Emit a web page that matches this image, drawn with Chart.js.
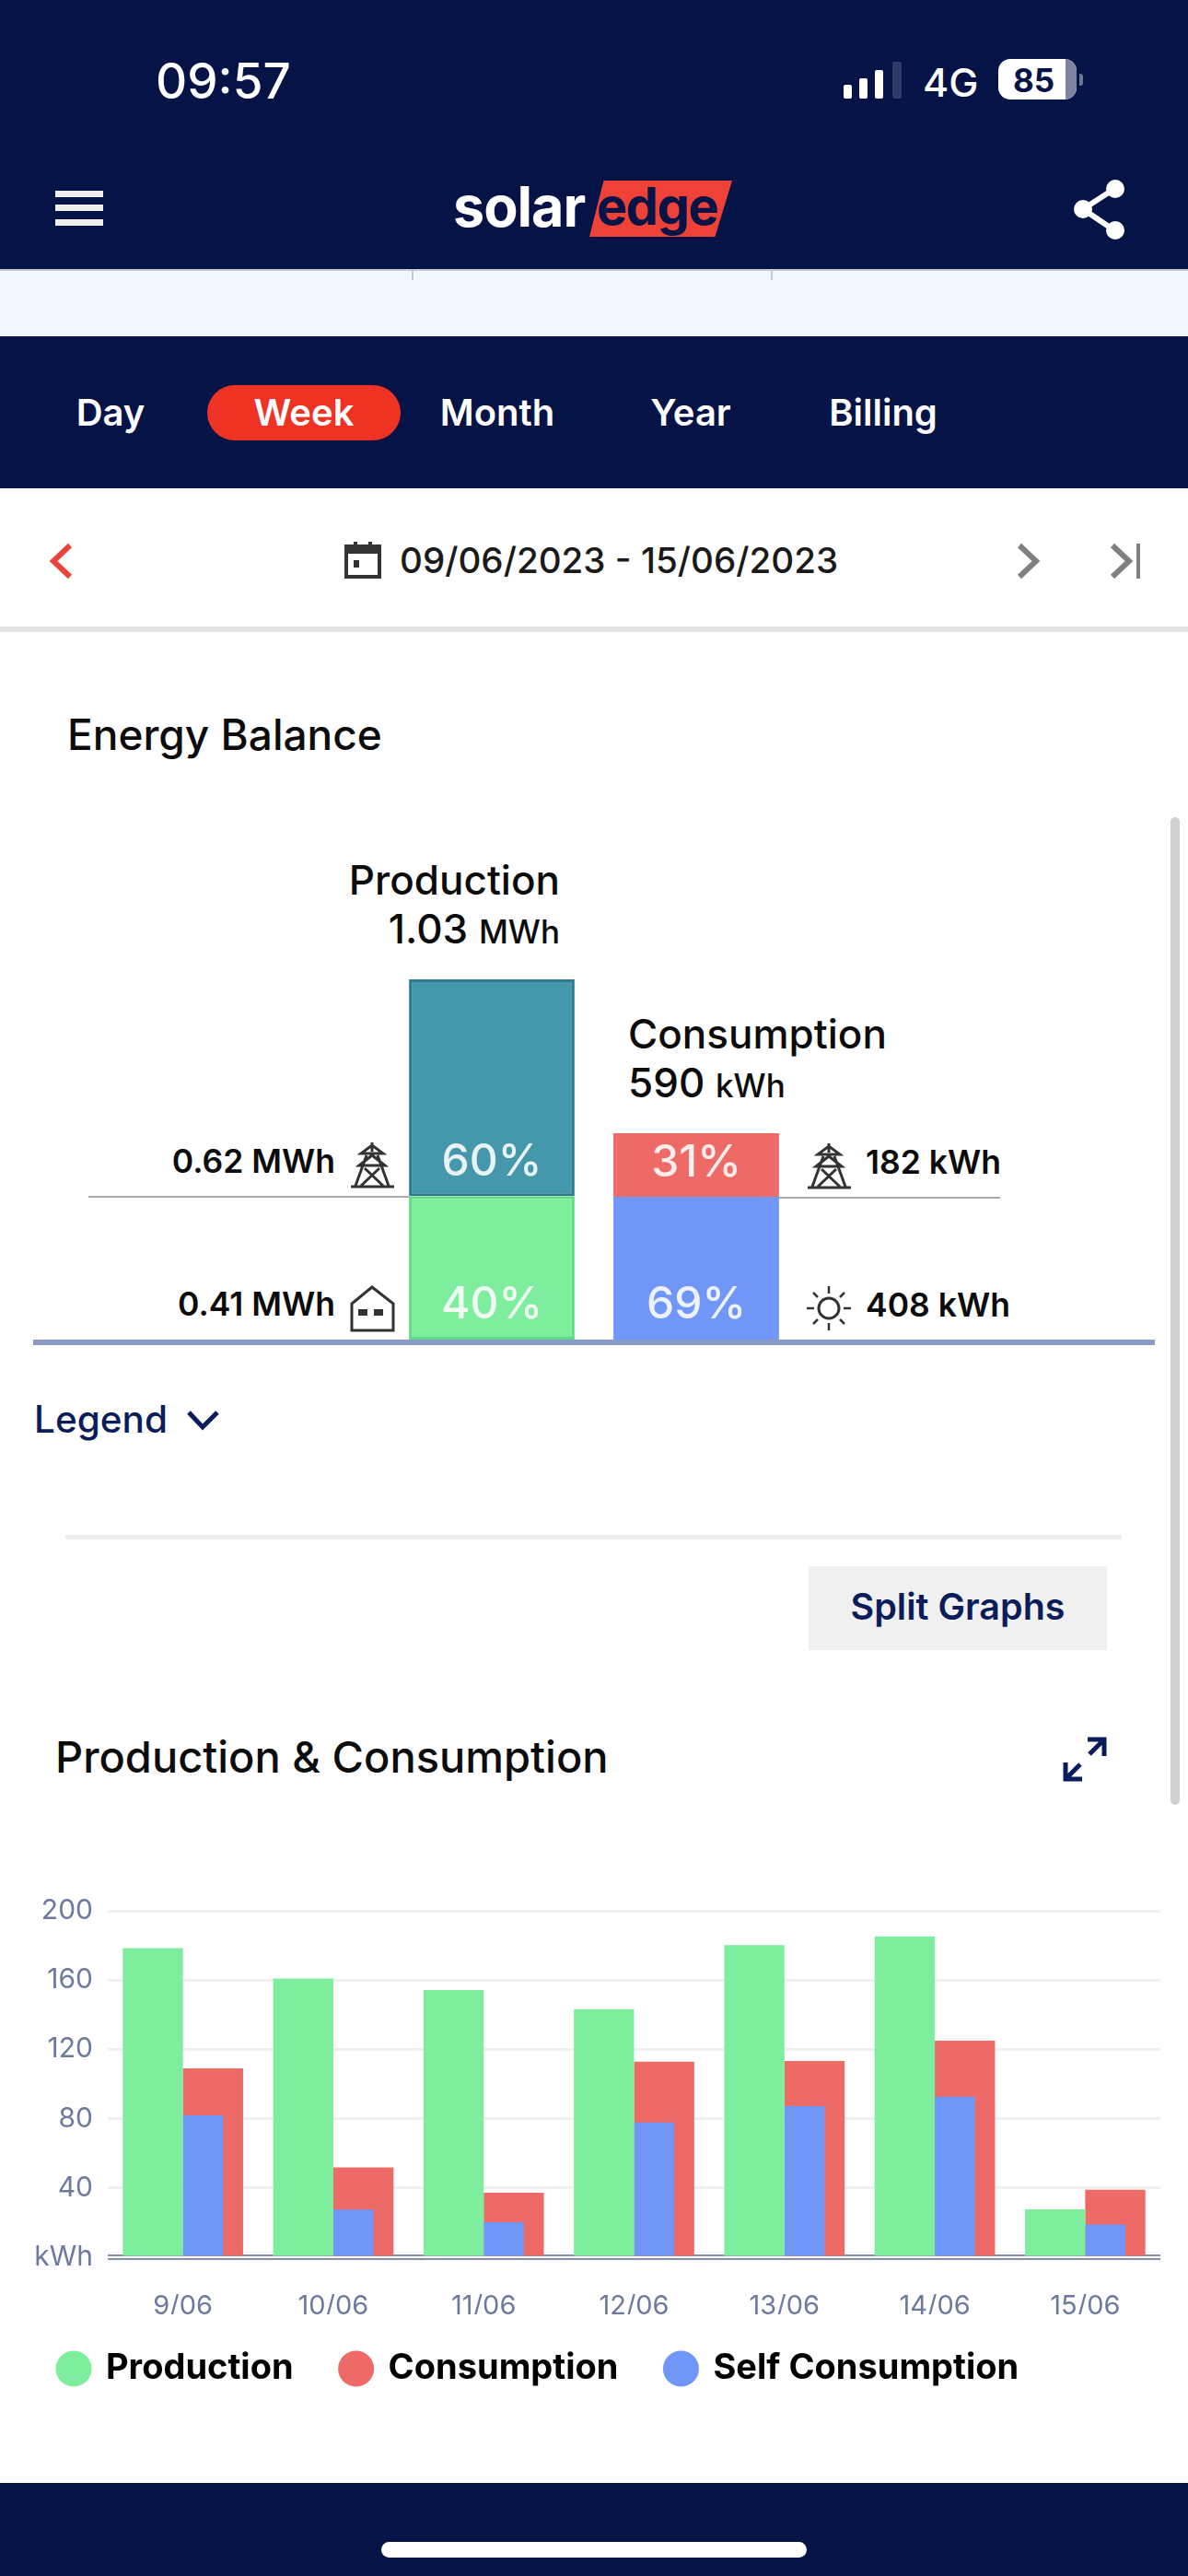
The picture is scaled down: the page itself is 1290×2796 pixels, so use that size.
<!DOCTYPE html>
<html lang="en">
<head>
    <meta charset="UTF-8">
    <title>SolarEdge Energy Balance</title>
    <script src="https://cdn.jsdelivr.net/npm/chart.js@4/dist/chart.umd.min.js"></script>
    <style>
        html, body { margin: 0; padding: 0; background: #fff; }
        body { position: relative; width: 1290px; height: 2796px; overflow: hidden; font-family: Inter, sans-serif; color: #0c0c0c; }
        .box { position: absolute; }
        .t { position: absolute; white-space: nowrap; transform: translateY(-50%); line-height: 1; }
        .navy { background: #051346; }
        .tab { color: #fff; font-size: 40px; font-weight: 600; top: 448px; transform: translate(-50%, -50%); }
        .label { font-size: 35.5px; font-weight: 600; }
        .head { font-size: 44px; font-weight: 500; }
        .small { font-size: 35px; }
        svg { position: absolute; overflow: visible; }
        canvas { position: absolute; display: block; }
    </style>
</head>
<body>
    <!-- Header -->
    <div class="box navy" style="left:0;top:0;width:1290px;height:292px"></div>
    <div class="box" style="left:0;top:292px;width:1290px;height:73px;background:#f0f7ff;border-top:2px solid #c4c8cf;box-sizing:border-box"></div>
    <div class="box" style="left:447px;top:293px;width:2px;height:11px;background:#c4c8cf"></div>
    <div class="box" style="left:837px;top:293px;width:2px;height:11px;background:#c4c8cf"></div>

    <div class="t" style="left:169px;top:88px;color:#fff;font-size:53px;font-weight:500">09:57</div>
    <div class="box" style="left:916px;top:92px;width:9px;height:15px;background:#fff;border-radius:2px"></div>
    <div class="box" style="left:933px;top:85px;width:9px;height:22px;background:#fff;border-radius:2px"></div>
    <div class="box" style="left:950px;top:76px;width:9px;height:31px;background:#fff;border-radius:2px"></div>
    <div class="box" style="left:969px;top:67px;width:10px;height:40px;background:#2e3a68;border-radius:2px"></div>
    <div class="t" style="left:1002px;top:89px;color:#fff;font-size:43px;font-weight:500">4G</div>
    <div class="box" style="left:1084px;top:64px;width:85px;height:44px;background:#fff;border-radius:13px;overflow:hidden">
        <div class="box" style="left:73px;top:0;width:12px;height:44px;background:#7d84a0"></div>
    </div>
    <div class="box" style="left:1172px;top:80px;width:4px;height:13px;background:#6d7490;border-radius:0 3px 3px 0"></div>
    <div class="t" style="left:1100px;top:87px;color:#051346;font-size:35px;font-weight:700">85</div>

    <div class="box" style="left:60px;top:207px;width:52px;height:7px;background:#eee"></div>
    <div class="box" style="left:60px;top:222px;width:52px;height:7px;background:#eee"></div>
    <div class="box" style="left:60px;top:238px;width:52px;height:7px;background:#eee"></div>

    <div class="box" style="left:640px;top:196px;width:155px;height:61px;background:#ee4238;clip-path:polygon(10% 0,100% 0,88% 100%,0 100%)"></div>
    <div class="t" style="left:492px;top:224px;color:#fff;font-size:61px;font-weight:700;letter-spacing:-1px">solar</div>
    <div class="t" style="left:648px;top:224px;color:#051346;font-size:56px;font-weight:700;letter-spacing:-1.5px">edge</div>

    <svg style="left:0;top:0" width="1" height="1">
        <path d="M1210 205 L1176 227 L1210 250" fill="none" stroke="#fff" stroke-width="6"/>
        <circle cx="1211" cy="205" r="10" fill="#fff"/>
        <circle cx="1176" cy="227" r="10" fill="#fff"/>
        <circle cx="1211" cy="250" r="10" fill="#fff"/>
    </svg>

    <!-- Period tabs -->
    <div class="box navy" style="left:0;top:365px;width:1290px;height:165px"></div>
    <div class="box" style="left:225px;top:418px;width:210px;height:60px;background:#ee3224;border-radius:30px"></div>
    <div class="t tab" style="left:120px">Day</div>
    <div class="t tab" style="left:330px">Week</div>
    <div class="t tab" style="left:540px">Month</div>
    <div class="t tab" style="left:750px">Year</div>
    <div class="t tab" style="left:959px">Billing</div>

    <!-- Date row -->
    <svg style="left:0;top:0" width="1" height="1">
        <path d="M76 592 L58 609 L76 626" fill="none" stroke="#e8443a" stroke-width="6"/>
        <rect x="376" y="593" width="36" height="33" fill="none" stroke="#333" stroke-width="4"/>
        <rect x="376" y="593" width="36" height="8" fill="#333"/>
        <rect x="384" y="588" width="4" height="7" fill="#333"/>
        <rect x="400" y="588" width="4" height="7" fill="#333"/>
        <rect x="384" y="608" width="6" height="8" fill="#333"/>
        <path d="M1107 592 L1125 609 L1107 626" fill="none" stroke="#808080" stroke-width="6"/>
        <path d="M1208 592 L1226 609 L1208 626" fill="none" stroke="#808080" stroke-width="6"/>
        <rect x="1234" y="590" width="4" height="38" fill="#808080"/>
    </svg>
    <div class="t" style="left:434px;top:608px;font-size:38.6px;font-weight:500;color:#1a1a1a">09/06/2023 - 15/06/2023</div>
    <div class="box" style="left:0;top:680px;width:1290px;height:6px;background:#e3e3e3"></div>

    <!-- Energy balance -->
    <div class="t" style="left:73px;top:797px;font-size:46px;font-weight:500">Energy Balance</div>
    <div class="box" style="left:1271px;top:887px;width:10px;height:1072px;background:#d0d0d0;border-radius:5px"></div>

    <div class="t head" style="right:682px;top:955px">Production</div>
    <div class="t head" style="right:682px;top:1008px">1.03 <span class="small">MWh</span></div>
    <div class="t head" style="left:682px;top:1122px">Consumption</div>
    <div class="t head" style="left:682px;top:1175px">590 <span class="small">kWh</span></div>

    <div class="box" style="left:96px;top:1298px;width:348px;height:2px;background:#aaa"></div>
    <div class="box" style="left:846px;top:1299px;width:240px;height:2px;background:#aaa"></div>

    <canvas id="balanceChart" width="444" height="391" style="left:423px;top:1063px"></canvas>
    <div class="box" style="left:36px;top:1454px;width:1218px;height:6px;background:#8a9cc5"></div>

    <div class="t label" style="right:926px;top:1261px">0.62 MWh</div>
    <div class="t label" style="right:926px;top:1416px">0.41 MWh</div>
    <div class="t label" style="left:940px;top:1262px">182 kWh</div>
    <div class="t label" style="left:940px;top:1417px">408 kWh</div>

    <svg style="left:0;top:0" width="1" height="1">
        <g id="tower" fill="none" stroke="#333" stroke-width="3">
            <path d="M404 1240 L404 1250 M392 1252 L416 1252 L404 1243 Z M390 1265 L418 1265 L404 1254 Z M398 1254 L386 1287 M410 1254 L422 1287 M396 1268 L416 1287 M412 1268 L392 1287 M381 1288 L428 1288"/>
        </g>
        <use href="#tower" x="496" y="1"/>
        <path d="M382 1444 L382 1415 L404 1397 L427 1415 L427 1444 Z" fill="none" stroke="#333" stroke-width="3"/>
        <rect x="389" y="1421" width="10" height="7" fill="#333"/>
        <rect x="406" y="1421" width="10" height="7" fill="#333"/>
        <circle cx="900" cy="1420" r="11" fill="none" stroke="#333" stroke-width="3"/>
        <path d="M900 1396 V1404 M900 1436 V1444 M876 1420 H884 M916 1420 H924 M883 1403 L888 1408 M917 1403 L912 1408 M883 1437 L888 1432 M917 1437 L912 1432" fill="none" stroke="#333" stroke-width="2.5"/>
    </svg>

    <div class="t" style="left:37px;top:1541px;font-size:40.5px;font-weight:500;color:#0b1c5a">Legend</div>
    <svg style="left:0;top:0" width="1" height="1">
        <path d="M205 1533 L220 1549 L236 1533" fill="none" stroke="#0b1c5a" stroke-width="5"/>
    </svg>

    <div class="box" style="left:71px;top:1666px;width:1147px;height:5px;background:#eeeeee"></div>
    <div class="box" style="left:878px;top:1700px;width:324px;height:91px;background:#f0f0f0"></div>
    <div class="t" style="left:1040px;top:1745px;transform:translate(-50%,-50%);font-size:39.5px;font-weight:600;color:#0b1c5a">Split Graphs</div>

    <!-- Production & Consumption -->
    <div class="t" style="left:60px;top:1906px;font-size:47px;font-weight:500">Production &amp; Consumption</div>
    <svg style="left:0;top:0" width="1" height="1">
        <path d="M1181 1888 H1199 V1906 M1199 1888 L1183 1904 M1157 1913 V1931 H1175 M1157 1931 L1173 1915" fill="none" stroke="#0b1c5a" stroke-width="5"/>
    </svg>
    <canvas id="productionChart" width="1290" height="572" style="left:0;top:2040px"></canvas>

    <!-- Bottom bar -->
    <div class="box navy" style="left:0;top:2695px;width:1290px;height:101px"></div>
    <div class="box" style="left:414px;top:2759px;width:462px;height:17px;background:#fff;border-radius:9px"></div>

    <script>
        // Energy balance values (kWh)
        const balanceLabels = ['Production', 'Consumption'];
        const balanceLower = [410, 408];
        const balanceUpper = [620, 182];
        const balanceLowerPercent = ['40%', '69%'];
        const balanceUpperPercent = ['60%', '31%'];

        // Daily production & consumption (kWh)
        const days = ['9/06', '10/06', '11/06', '12/06', '13/06', '14/06', '15/06'];
        const production = [178.5, 160.9, 154.2, 143.2, 180.2, 185.2, 27.7];
        const consumption = [109, 51.8, 37.2, 112.9, 113.3, 125, 38.9];
        const selfConsumption = [81.9, 27.5, 20.2, 77.8, 87.3, 92.7, 18.9];
        const yTicks = [0, 40, 80, 120, 160, 200];

        const GREEN = '#7eed9e';
        const RED = '#ed6a66';
        const BLUE = '#7097f8';
        const TEAL = '#4598ab';

        // Percent captions sit a fixed distance above the bottom of each segment
        const percentLabels = {
            id: 'percentLabels',
            afterDatasetsDraw(chart) {
                const ctx = chart.ctx;
                ctx.save();
                ctx.font = '500 48px Inter';
                ctx.fillStyle = 'rgba(255,255,255,0.88)';
                ctx.textAlign = 'center';
                ctx.textBaseline = 'middle';
                chart.data.datasets.forEach((ds, i) => {
                    chart.getDatasetMeta(i).data.forEach((bar, j) => {
                        ctx.fillText(ds.percent[j], bar.x, bar.base - 37);
                    });
                });
                ctx.restore();
            }
        };

        new Chart(document.getElementById('balanceChart'), {
            type: 'bar',
            data: {
                labels: balanceLabels,
                datasets: [
                    {
                        data: balanceLower,
                        percent: balanceLowerPercent,
                        backgroundColor: [GREEN, BLUE],
                        borderColor: ['#62dc84', BLUE],
                        borderWidth: 3,
                        borderSkipped: false
                    },
                    {
                        data: balanceUpper,
                        percent: balanceUpperPercent,
                        backgroundColor: [TEAL, RED],
                        borderColor: ['#2f7a8c', RED],
                        borderWidth: 3,
                        borderSkipped: false
                    }
                ]
            },
            options: {
                responsive: false,
                animation: false,
                categoryPercentage: 1,
                barPercentage: 0.81,
                layout: { padding: 0 },
                plugins: { legend: { display: false }, tooltip: { enabled: false } },
                scales: {
                    x: { display: false, stacked: true },
                    y: { display: false, stacked: true, min: 0, max: 1030 }
                }
            },
            plugins: [percentLabels]
        });

        // Double rule under the bars, either side of the zero line
        const baseline = {
            id: 'baseline',
            beforeDatasetsDraw(chart) {
                const ctx = chart.ctx;
                const y0 = chart.scales.y.getPixelForValue(0);
                ctx.save();
                ctx.strokeStyle = '#848ead';
                ctx.lineWidth = 2;
                [y0 - 2, y0 + 2].forEach(y => {
                    ctx.beginPath();
                    ctx.moveTo(chart.chartArea.left, y);
                    ctx.lineTo(chart.chartArea.right, y);
                    ctx.stroke();
                });
                ctx.restore();
            }
        };

        // Self consumption shares the consumption slot but hugs its left edge
        const alignSelfBars = {
            id: 'alignSelfBars',
            afterDatasetsUpdate(chart) {
                const slot = chart.getDatasetMeta(1).data;
                chart.getDatasetMeta(2).data.forEach((bar, i) => {
                    bar.x = slot[i].x - (slot[i].width - bar.width) / 2;
                });
            }
        };

        // Pull the legend up into the free space under the tick labels
        const raiseLegend = {
            id: 'raiseLegend',
            afterLayout(chart) {
                chart.legend.top -= 12;
            }
        };

        new Chart(document.getElementById('productionChart'), {
            type: 'bar',
            data: {
                labels: days,
                datasets: [
                    { label: 'Production', data: production, backgroundColor: GREEN, order: 0 },
                    { label: 'Consumption', data: consumption, backgroundColor: RED, stack: 'demand', order: 2 },
                    { label: 'Self Consumption', data: selfConsumption, backgroundColor: BLUE, stack: 'demand', barPercentage: 0.668, order: 1 }
                ]
            },
            options: {
                responsive: false,
                animation: false,
                categoryPercentage: 0.8,
                barPercentage: 1,
                layout: { padding: { left: 12, right: 30, top: 30, bottom: 0 } },
                plugins: {
                    tooltip: { enabled: false },
                    legend: {
                        position: 'bottom',
                        align: 'start',
                        labels: {
                            sort: (a, b) => a.datasetIndex - b.datasetIndex,
                            usePointStyle: true,
                            pointStyle: 'circle',
                            boxWidth: 32,
                            boxHeight: 27.6,
                            padding: 52,
                            color: '#000',
                            font: { family: 'Inter', size: 38, weight: '700' }
                        }
                    }
                },
                scales: {
                    x: {
                        grid: { display: false },
                        border: { display: false },
                        ticks: { color: '#6d7a9e', padding: 28, font: { family: 'Inter', size: 29 }, maxRotation: 0, autoSkip: false },
                        afterFit: scale => { scale.height = 62; }
                    },
                    y: {
                        min: 0,
                        max: 200,
                        stacked: false,
                        afterBuildTicks: scale => { scale.ticks = yTicks.map(value => ({ value })); },
                        afterFit: scale => { scale.width = 105; },
                        border: { display: false },
                        grid: { color: ctx => ctx.tick.value === 0 ? 'rgba(0,0,0,0)' : '#f0f0f0', lineWidth: 3, drawTicks: false },
                        ticks: {
                            color: '#6d7a9e',
                            padding: 16,
                            font: { family: 'Inter', size: 30 },
                            callback: value => value === 0 ? 'kWh' : value
                        }
                    }
                }
            },
            plugins: [baseline, alignSelfBars, raiseLegend]
        });
    </script>
</body>
</html>
